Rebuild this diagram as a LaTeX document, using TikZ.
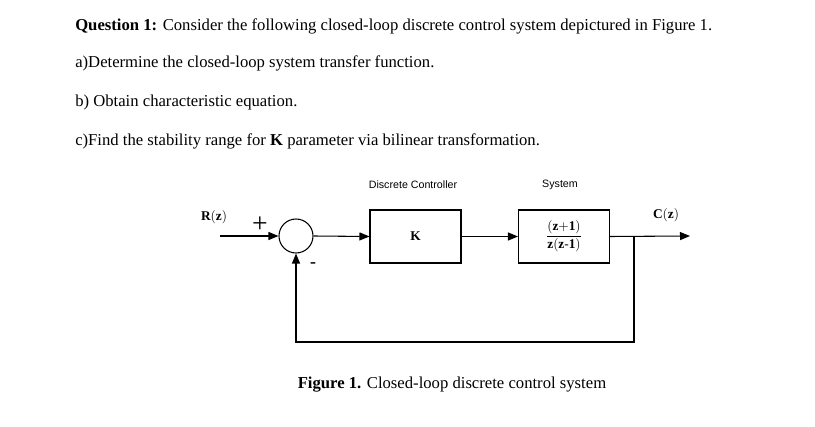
\documentclass[tikz,border=0pt]{standalone}
\usepackage{amsmath}
\usepackage{fontspec}
\setmainfont{Liberation Serif}
\newfontfamily\diagfont{Liberation Sans}
\usetikzlibrary{arrows.meta}
\tikzset{block/.style={draw,line width=0.8pt,minimum width=68.25pt,minimum height=39.75pt},
  arrow/.style={line width=0.8pt,-{Triangle[length=7.5pt,width=6pt]}},
  txt/.style={anchor=west,font=\fontsize{12.5}{15}\selectfont,inner sep=0pt}}
\begin{document}
\begin{tikzpicture}[x=0.75pt,y=-0.75pt]
\useasboundingbox (0,0) rectangle (815,427);
% question text
\node[txt] (q1) at (75,26) {\textbf{Question 1:} Consider the following closed-loop discrete control system depictured in Figure 1.};
\node[txt] (qa) at (75,63) {a)Determine the closed-loop system transfer function.};
\node[txt] (qb) at (75,102) {b) Obtain characteristic equation.};
\node[txt] (qc) at (75,141) {c)Find the stability range for \textbf{K} parameter via bilinear transformation.};
% block diagram
\coordinate (in) at (220,236);
\node[draw,line width=0.8pt,circle,minimum size=25.5pt,inner sep=0pt] (sum) at (296,236) {};
\node[block] (ctrl) at (415.5,236.5) {\bfseries K};
\node[block] (sys) at (564,236.5) {$\dfrac{(\mathbf{z{+}1})}{\mathbf{z(z\text{-}1)}}$};
\coordinate (out) at (690,236);
\coordinate (br) at (634,236);
\coordinate (fb) at (634,342);
\draw[arrow] (in) -- (sum.west);
\draw[arrow] (sum.east) -- (ctrl.west);
\draw[arrow] (ctrl.east) -- (sys.west);
\draw[arrow] (sys.east) -- (out);
\draw[arrow] (br) -- (fb) -| (sum.south);
% labels
\node[font=\bfseries] (rlab) at (214,217) {R$(\mathbf{z})$};
\node[font=\bfseries] (clab) at (666,215) {C$(\mathbf{z})$};
\node[font=\huge] (plus) at (260,225) {+};
\node[font=\Large\diagfont] (minus) at (313,266) {-};
\node[font=\diagfont\footnotesize] (ctrllab) at (413,185) {Discrete Controller};
\node[font=\diagfont\footnotesize] (syslab) at (560,185) {System};
\node[font=\fontsize{12.5}{15}\selectfont] (cap) at (452,385) {\textbf{Figure 1.} Closed-loop discrete control system};
\end{tikzpicture}
\end{document}
